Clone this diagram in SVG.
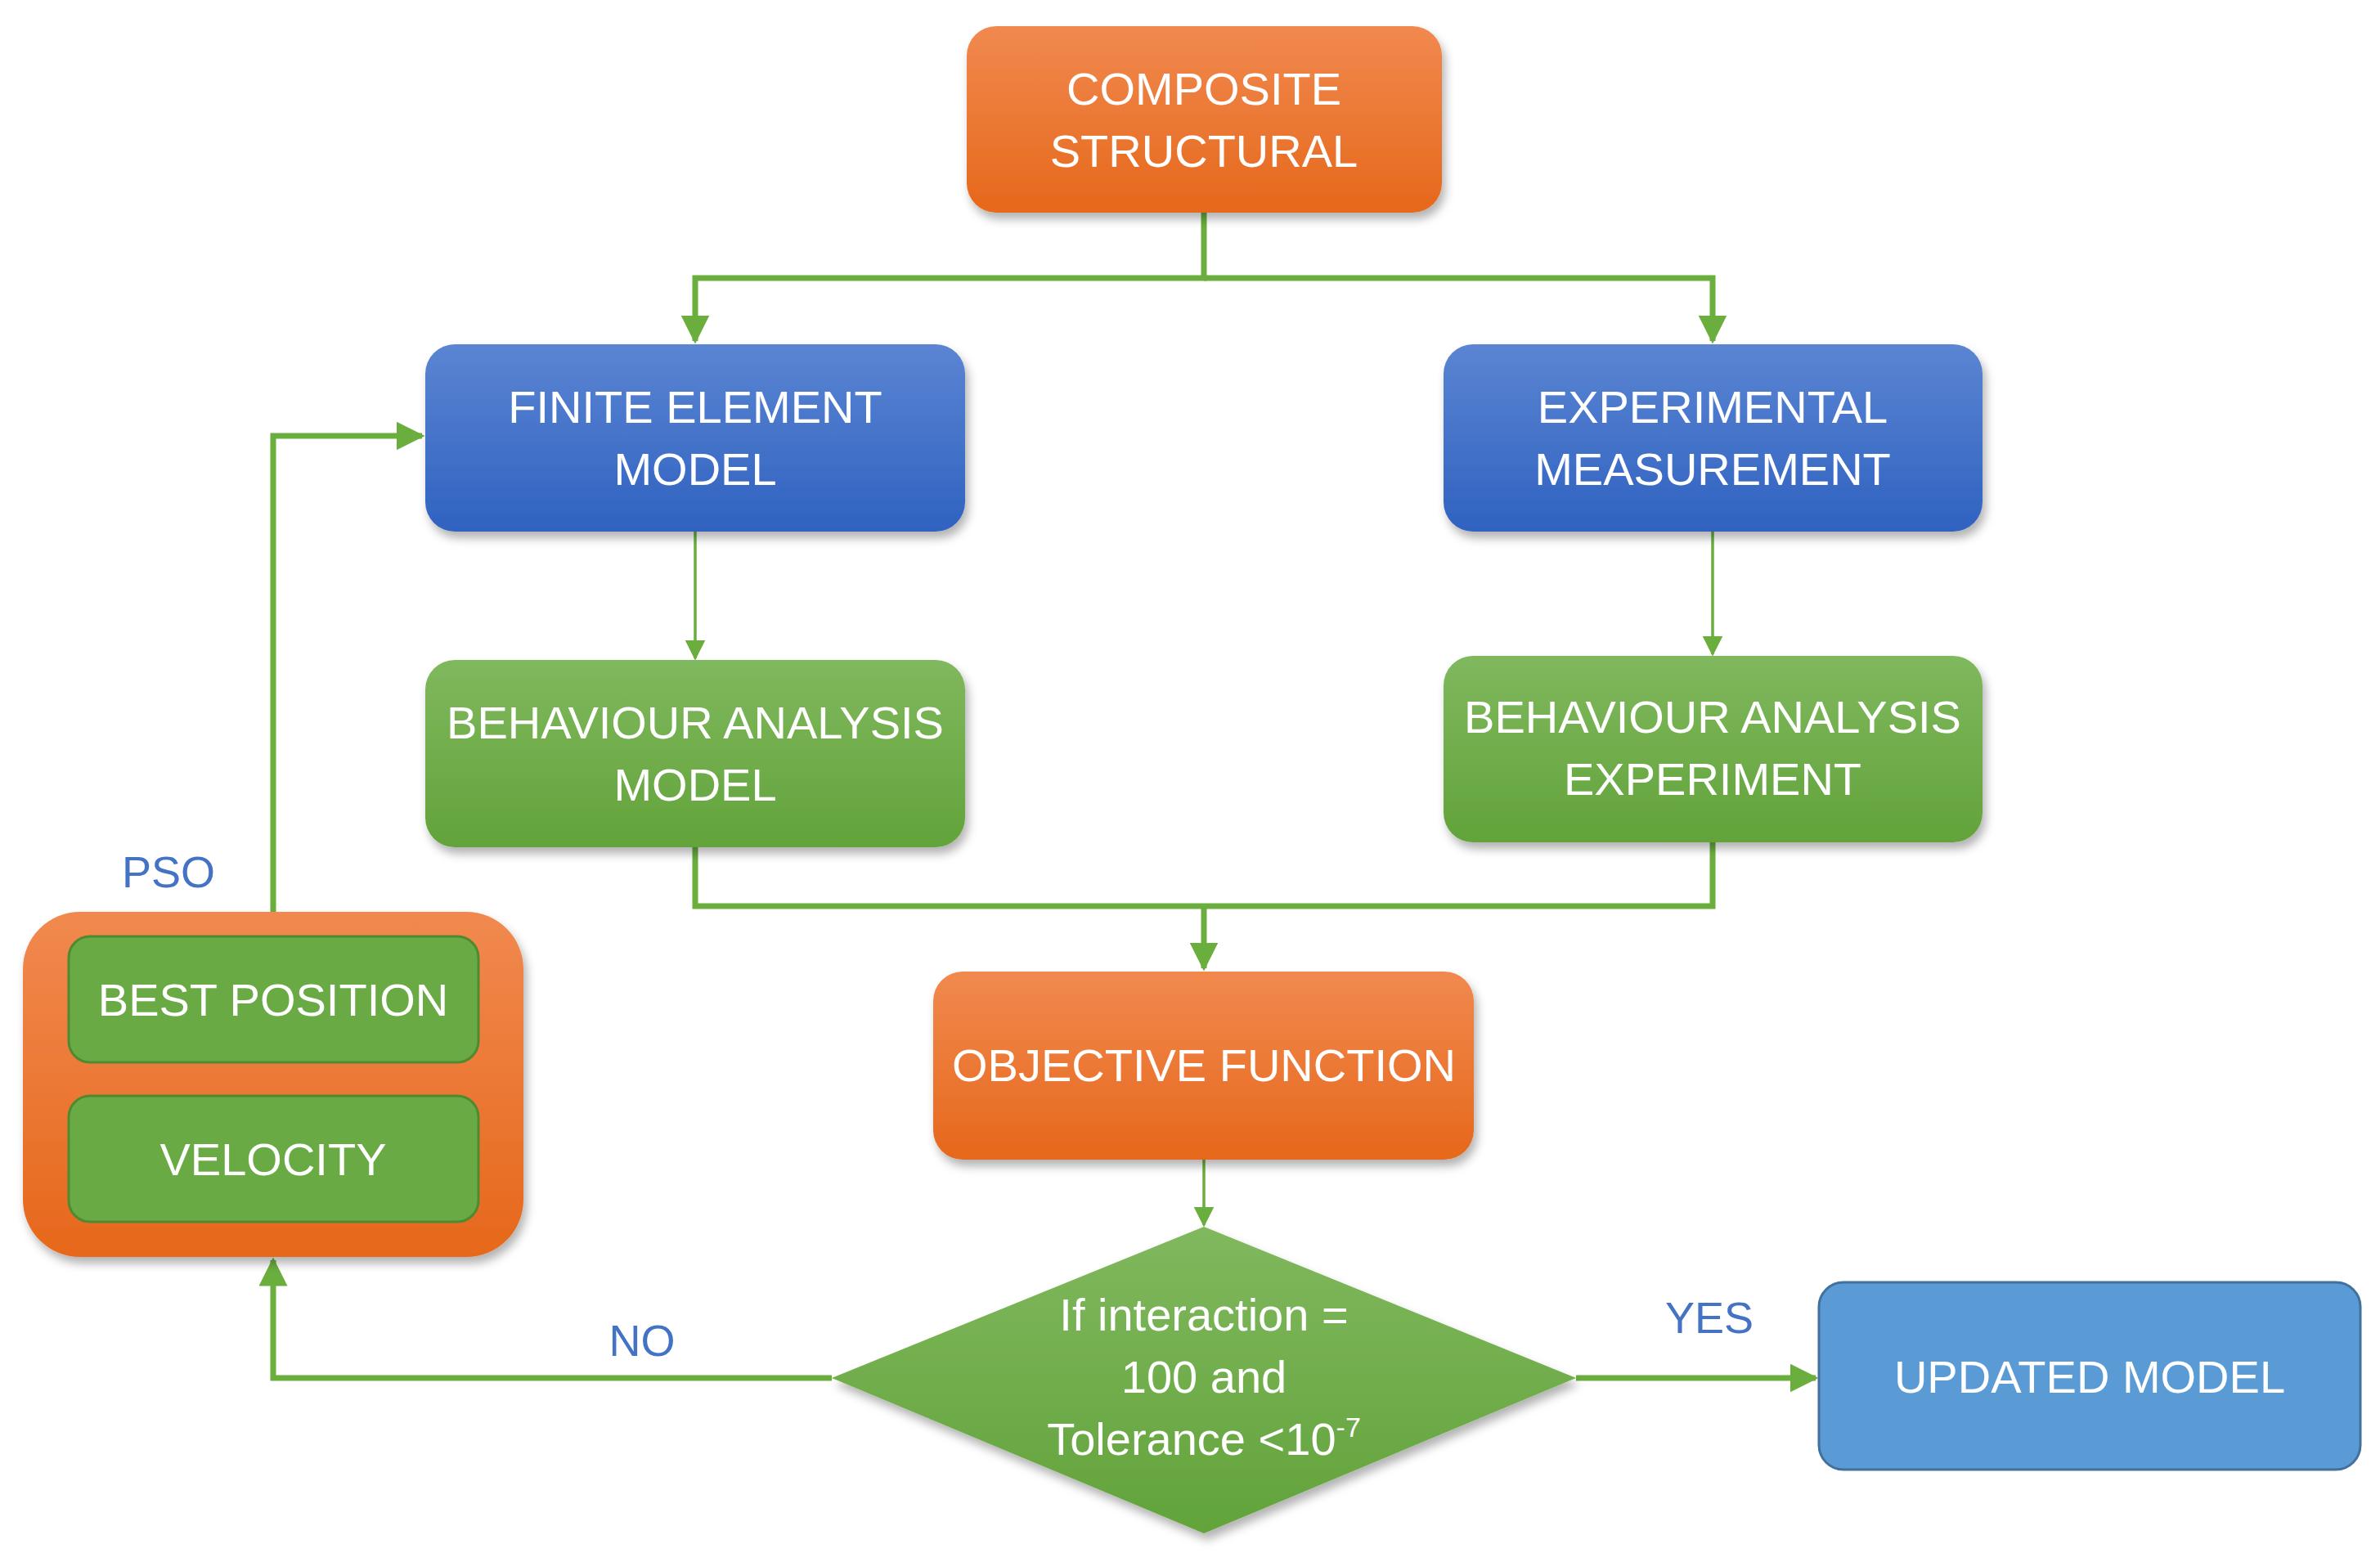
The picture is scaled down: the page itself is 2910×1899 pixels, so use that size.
<svg xmlns="http://www.w3.org/2000/svg" width="2910" height="1899" viewBox="0 0 2910 1899">
<defs>
<linearGradient id="gO" x1="0" y1="0" x2="0" y2="1"><stop offset="0" stop-color="#F1894F"/><stop offset="1" stop-color="#E6681B"/></linearGradient>
<linearGradient id="gB" x1="0" y1="0" x2="0" y2="1"><stop offset="0" stop-color="#5B85D3"/><stop offset="1" stop-color="#2F62C0"/></linearGradient>
<linearGradient id="gG" x1="0" y1="0" x2="0" y2="1"><stop offset="0" stop-color="#80B85E"/><stop offset="1" stop-color="#62A33A"/></linearGradient>
<filter id="sh" x="-10%" y="-10%" width="120%" height="130%"><feDropShadow dx="4" dy="8" stdDeviation="6" flood-color="#000" flood-opacity="0.3"/></filter>
<marker id="ah" viewBox="0 0 10 10" refX="9" refY="5" markerWidth="5" markerHeight="5" markerUnits="strokeWidth" orient="auto"><path d="M0,0 L10,5 L0,10 z" fill="#6AAE3E"/></marker>
<marker id="ahs" viewBox="0 0 10 10" refX="9" refY="5" markerWidth="7" markerHeight="7" markerUnits="strokeWidth" orient="auto"><path d="M0,0 L10,5 L0,10 z" fill="#6AAE3E"/></marker>
</defs>
<style>
.t{font-family:"Liberation Sans Narrow","Liberation Sans",Arial,sans-serif;font-size:56px;fill:#fff;text-anchor:middle}
.l{font-family:"Liberation Sans Narrow","Liberation Sans",Arial,sans-serif;font-size:54px;fill:#4472C4;text-anchor:middle}
.c{fill:none;stroke:#6AAE3E;stroke-width:7}
.ct{fill:none;stroke:#6AAE3E;stroke-width:3.5}
</style>
<g id="connectors">
<path class="c" d="M1472,260 V340 H850 V417" marker-end="url(#ah)"/>
<path class="c" d="M1472,340 H2094 V417" marker-end="url(#ah)"/>
<path class="ct" d="M850,650 V805" marker-end="url(#ahs)"/>
<path class="ct" d="M2094,650 V800" marker-end="url(#ahs)"/>
<path class="c" d="M850,1036 V1108 H2094 V1030"/>
<path class="c" d="M1472,1108 V1184" marker-end="url(#ah)"/>
<path class="ct" d="M1472,1418 V1498" marker-end="url(#ahs)"/>
<path class="c" d="M1017,1685 H334 V1541" marker-end="url(#ah)"/>
<path class="c" d="M334,1115 V533 H516" marker-end="url(#ah)"/>
<path class="c" d="M1927,1685 H2220" marker-end="url(#ah)"/>
</g>
<g id="composite"><rect x="1182" y="32" width="581" height="228" rx="36" fill="url(#gO)" filter="url(#sh)"/><text class="t" x="1472" y="128">COMPOSITE</text><text class="t" x="1472" y="204">STRUCTURAL</text></g>
<g id="fem"><rect x="520" y="421" width="660" height="229" rx="36" fill="url(#gB)" filter="url(#sh)"/><text class="t" x="850" y="517">FINITE ELEMENT</text><text class="t" x="850" y="593">MODEL</text></g>
<g id="exp"><rect x="1765" y="421" width="659" height="229" rx="36" fill="url(#gB)" filter="url(#sh)"/><text class="t" x="2094" y="517">EXPERIMENTAL</text><text class="t" x="2094" y="593">MEASUREMENT</text></g>
<g id="bam"><rect x="520" y="807" width="660" height="229" rx="36" fill="url(#gG)" filter="url(#sh)"/><text class="t" x="850" y="903">BEHAVIOUR ANALYSIS</text><text class="t" x="850" y="979">MODEL</text></g>
<g id="bae"><rect x="1765" y="802" width="659" height="228" rx="36" fill="url(#gG)" filter="url(#sh)"/><text class="t" x="2094" y="896">BEHAVIOUR ANALYSIS</text><text class="t" x="2094" y="972">EXPERIMENT</text></g>
<g id="objective"><rect x="1141" y="1188" width="661" height="230" rx="36" fill="url(#gO)" filter="url(#sh)"/><text class="t" x="1472" y="1322">OBJECTIVE FUNCTION</text></g>
<g id="decision"><polygon points="1472,1500 1927,1685 1472,1875 1017,1685" fill="url(#gG)" filter="url(#sh)"/><text class="t" x="1472" y="1627">If interaction =</text><text class="t" x="1472" y="1703">100 and</text><text class="t" x="1472" y="1779">Tolerance &lt;10<tspan dy="-22" font-size="34">-7</tspan></text></g>
<g id="updated"><rect x="2224" y="1568" width="662" height="229" rx="30" fill="#5B9BD5" stroke="#41719C" stroke-width="3"/><text class="t" x="2555" y="1703">UPDATED MODEL</text></g>
<g id="pso"><rect x="28" y="1115" width="612" height="422" rx="70" fill="url(#gO)" filter="url(#sh)"/>
<rect x="84" y="1145" width="501" height="154" rx="26" fill="#6AAA45" stroke="#4E8A30" stroke-width="3"/><text class="t" x="334" y="1242">BEST POSITION</text>
<rect x="84" y="1340" width="501" height="154" rx="26" fill="#6AAA45" stroke="#4E8A30" stroke-width="3"/><text class="t" x="334" y="1437">VELOCITY</text></g>
<g id="labels"><text class="l" x="206" y="1085">PSO</text><text class="l" x="785" y="1658">NO</text><text class="l" x="2090" y="1630">YES</text></g>
</svg>
